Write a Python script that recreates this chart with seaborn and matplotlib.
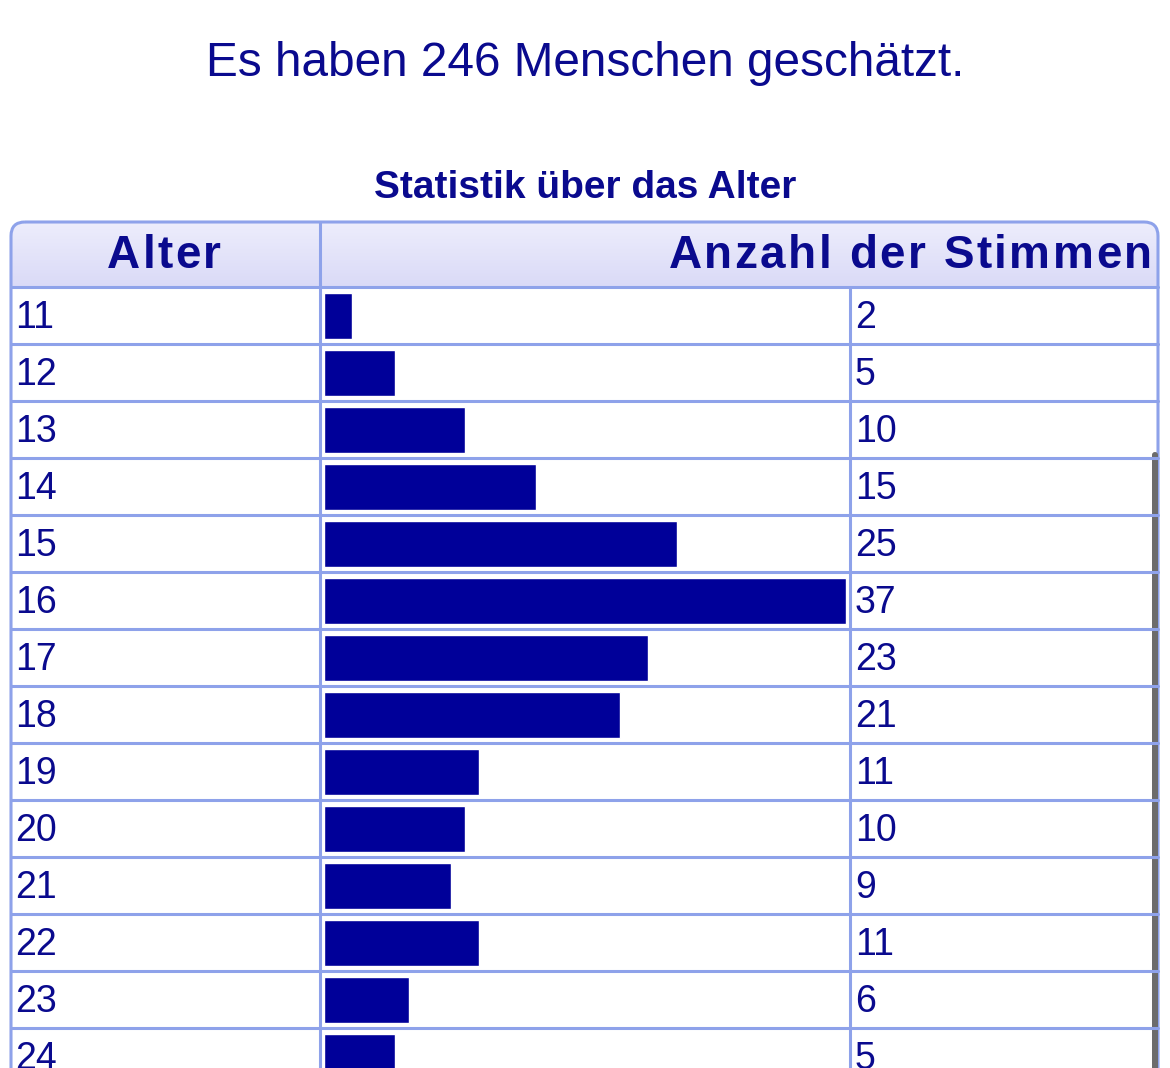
import matplotlib
matplotlib.use("Agg")
import matplotlib.pyplot as plt
import matplotlib.transforms as mtransforms
from matplotlib.patches import FancyBboxPatch
import numpy as np
import pandas as pd
import seaborn as sns

# data
alter = ['11', '12', '13', '14', '15', '16', '17', '18', '19', '20', '21', '22', '23', '24']
stimmen = [2, 5, 10, 15, 25, 37, 23, 21, 11, 10, 9, 11, 6, 5]
titel = 'Es haben 246 Menschen geschätzt.'
untertitel = 'Statistik über das Alter'
kopf = ['Alter', 'Anzahl der Stimmen']

df = pd.DataFrame({'Alter': alter, 'Stimmen': stimmen})

sns.set_theme(style="white")
plt.rcParams['font.family'] = ['Liberation Sans', 'DejaVu Sans']

navy = '#000099'
textc = '#0a0a8e'
linec = '#8ea2ea'

W, H = 1170, 1068
fig = plt.figure(figsize=(W / 100, H / 100), dpi=100)
fig.patch.set_facecolor('white')

# background axes in pixel coordinates
bg = fig.add_axes([0, 0, 1, 1])
bg.set_xlim(0, W)
bg.set_ylim(H, 0)
bg.axis('off')
renderer = fig.canvas.get_renderer()


def textbreite(txt, size):
    t = bg.text(0, 0, txt, fontsize=size, fontweight='bold')
    b = t.get_window_extent(renderer).width
    t.remove()
    return b


def gesperrt(x, y, s, ha, size, spacing):
    # header text with letter spacing, drawn char by char
    wx = textbreite('x', size)
    offs = [0] + [textbreite(s[:k] + 'x', size) - wx for k in range(1, len(s))]
    offs = [o + k * spacing for k, o in enumerate(offs)]
    total = textbreite(s, size) + (len(s) - 1) * spacing
    start = x - total / 2 if ha == 'center' else x - total
    for k, ch in enumerate(s):
        if ch == ' ':
            continue
        bg.text(start + offs[k], y, ch, ha='left', va='baseline', fontsize=size,
                fontweight='bold', color=textc, zorder=5)


tab_l, tab_r, tab_t, head_b = 11, 1158, 222, 287
col1, col2 = 320, 850

bg.text(585, 63, titel, ha='center', va='center', fontsize=34.4, color=textc)
bg.text(585, 188, untertitel, ha='center', va='center', fontsize=28,
        fontweight='bold', color=textc)

# table box with rounded top corners
box = FancyBboxPatch((tab_l, tab_t), tab_r - tab_l, 1200,
                     boxstyle="round,pad=0,rounding_size=14",
                     facecolor='white', edgecolor='none', zorder=1)
bg.add_patch(box)

# header gradient
grad = np.linspace(0, 1, 64).reshape(-1, 1)
img = bg.imshow(grad, extent=(tab_l, tab_r, head_b, tab_t), aspect='auto',
                cmap=matplotlib.colors.LinearSegmentedColormap.from_list(
                    'kopf', ['#ededfc', '#dadaf7']), zorder=2)
img.set_clip_path(box)

gesperrt(164, 268, kopf[0], 'center', 33, 2.4)
gesperrt(1152, 268, kopf[1], 'right', 33, 2.5)

# bar axes over the middle column
row_h = 57
ax_h = H - head_b
ax = fig.add_axes([col1 / W, 0, (col2 - col1) / W, ax_h / H])
sns.barplot(data=df, x='Stimmen', y='Alter', orient='h', color=navy,
            saturation=1, width=46 / row_h, ax=ax, zorder=3)
px_per = (846 - 324) / 37
ax.set_xlim(-4 / px_per, (col2 - col1 - 4) / px_per)
ax.set_ylim(-0.5 + ax_h / row_h, -0.5)
ax.axis('off')

mixed = mtransforms.blended_transform_factory(bg.transData, ax.transData)
for i, (a, s) in enumerate(zip(alter, stimmen)):
    ax.text(15, i + 0.04, a, transform=mixed, ha='left', va='center',
            fontsize=27, color=textc, clip_on=False)
    ax.text(855, i + 0.04, str(s), transform=mixed, ha='left', va='center',
            fontsize=27, color=textc, clip_on=False)
    ax.plot([tab_l, tab_r], [i + 0.5, i + 0.5], transform=mixed,
            color=linec, lw=2.2, clip_on=False, zorder=4)

# grid lines
lw = 2.2
bg.plot([tab_l, tab_r], [head_b, head_b], color=linec, lw=lw, zorder=4)
bg.plot([col1, col1], [tab_t, H], color=linec, lw=lw, zorder=4)
bg.plot([col2, col2], [head_b, H], color=linec, lw=lw, zorder=4)
rand = FancyBboxPatch((tab_l, tab_t), tab_r - tab_l, 1200,
                      boxstyle="round,pad=0,rounding_size=14",
                      facecolor='none', edgecolor=linec, lw=lw, zorder=4)
bg.add_patch(rand)

# scrollbar
bg.add_patch(FancyBboxPatch((1152, 452), 6, H - 452 + 20,
                            boxstyle="round,pad=0,rounding_size=3",
                            facecolor='#6c6c6c', edgecolor='none', zorder=6))

fig.savefig('out.png', dpi=100)
